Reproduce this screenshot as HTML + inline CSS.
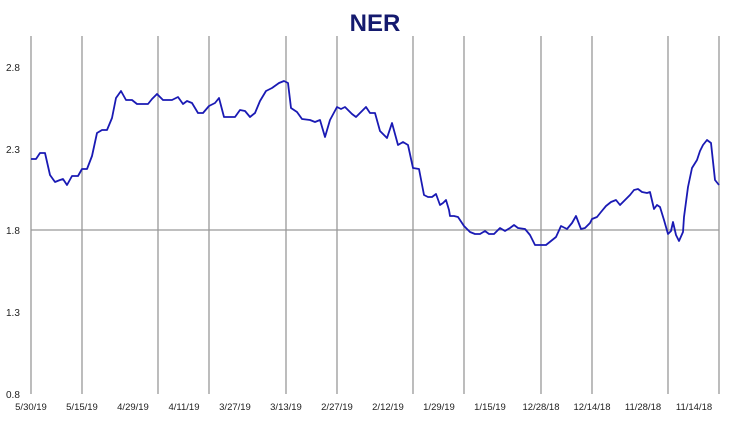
<!DOCTYPE html>
<html><head><meta charset="utf-8"><style>body{margin:0;background:#fff}</style></head><body>
<svg width="750" height="422" xmlns="http://www.w3.org/2000/svg" font-family="Liberation Sans, sans-serif">
<rect width="750" height="422" fill="#fff"/>
<text x="375" y="31" text-anchor="middle" font-size="24" font-weight="bold" fill="#141a6e">NER</text>
<g stroke="#999" stroke-width="1.3">
<line x1="31" y1="36" x2="31" y2="394"/><line x1="82" y1="36" x2="82" y2="394"/><line x1="158" y1="36" x2="158" y2="394"/><line x1="209" y1="36" x2="209" y2="394"/><line x1="286" y1="36" x2="286" y2="394"/><line x1="337" y1="36" x2="337" y2="394"/><line x1="413" y1="36" x2="413" y2="394"/><line x1="464" y1="36" x2="464" y2="394"/><line x1="541" y1="36" x2="541" y2="394"/><line x1="592" y1="36" x2="592" y2="394"/><line x1="668" y1="36" x2="668" y2="394"/><line x1="719" y1="36" x2="719" y2="394"/>
<line x1="31" y1="230" x2="719" y2="230"/>
</g>
<g font-size="10" fill="#222">
<text x="6" y="71">2.8</text><text x="6" y="153">2.3</text><text x="6" y="234">1.8</text><text x="6" y="316">1.3</text><text x="6" y="398">0.8</text>
</g>
<g font-size="9.5" fill="#222" text-anchor="middle">
<text x="31" y="410">5/30/19</text><text x="82" y="410">5/15/19</text><text x="133" y="410">4/29/19</text><text x="184" y="410">4/11/19</text><text x="235" y="410">3/27/19</text><text x="286" y="410">3/13/19</text><text x="337" y="410">2/27/19</text><text x="388" y="410">2/12/19</text><text x="439" y="410">1/29/19</text><text x="490" y="410">1/15/19</text><text x="541" y="410">12/28/18</text><text x="592" y="410">12/14/18</text><text x="643" y="410">11/28/18</text><text x="694" y="410">11/14/18</text>
</g>
<polyline fill="none" stroke="#1a1ab4" stroke-width="1.8" stroke-linejoin="round" points="31,159 36,159 40,153 45,153 50,175 55,182 60,180 63,179 67,185 72,176 78,176 82,169 87,169 92,156 97,133 102,130 107,130 112,118 116,98 121,91 126,100 132,100 137,104 148,104 152,99 157,94 163,100 172,100 178,97 183,104 187,101 192,103 198,113 203,113 209,106 215,103 219,98 224,117 235,117 240,110 245,111 250,117 255,113 260,101 266,91 272,88 279,83 284,81 288,83 291,108 297,112 302,119 310,120 315,122 320,120 325,137 330,120 337,107 341,109 345,107 352,114 356,117 362,111 366,107 370,113 375,113 380,131 387,138 392,123 398,145 403,142 408,145 413,168 419,169 424,195 428,197 432,197 436,194 440,205 443,203 446,200 449,210 450,216 454,216 458,217 464,226 470,232 475,234 480,234 485,231 489,234 494,234 500,228 505,231 510,228 514,225 518,228 525,229 530,235 535,245 541,245 546,245 551,241 556,237 561,226 567,229 572,223 576,216 581,229 585,228 590,223 592,219 597,217 601,212 606,206 611,202 616,200 620,205 625,200 630,195 634,190 638,189 642,192 647,193 650,192 654,209 657,205 660,207 664,220 668,234 671,231 673,222 676,235 679,241 683,232 684,217 688,187 692,168 697,160 700,151 703,145 707,140 711,143 715,180 719,185"/>
</svg>
</body></html>
